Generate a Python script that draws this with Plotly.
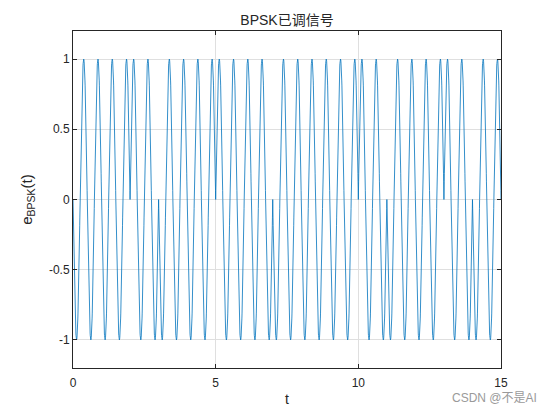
import numpy as np
import plotly.graph_objects as go

# Data
bits = [-1, -1, 1, -1, -1, 1, 1, -1, -1, -1, 1, -1, -1, 1, -1]  # one bit per unit time
carrier_freq = 2.0  # cycles per unit time
bit_duration = 1.0
sample_step = 0.005

x_ticks = [0, 5, 10, 15]
x_tick_text = ["0", "5", "10", "15"]
y_ticks = [-1, -0.5, 0, 0.5, 1]
y_tick_text = ["-1", "-0.5", "0", "0.5", "1"]

t = np.arange(0, len(bits) * bit_duration + sample_step / 2, sample_step)
idx = np.minimum((t // bit_duration).astype(int), len(bits) - 1)
b = np.array(bits)[idx]
e = b * np.sin(2 * np.pi * carrier_freq * t)

W, H = 538, 399          # page body has an 8px margin
ML, MT, MR, MB = 65, 23, 45, 39

fig = go.Figure()
fig.add_trace(go.Scatter(x=t, y=e, mode="lines",
                         line=dict(color="#0072BD", width=0.8), showlegend=False))

axis_common = dict(showline=True, linecolor="#262626", linewidth=1, mirror="allticks",
                   ticks="inside", ticklen=4, tickcolor="#262626", automargin=False,
                   showgrid=True, gridcolor="#dfdfdf", gridwidth=1, zeroline=False,
                   tickfont=dict(family="Liberation Sans, Arial, sans-serif", size=12, color="#262626"))

fig.update_layout(
    width=W, height=H,
    paper_bgcolor="white", plot_bgcolor="white",
    margin=dict(l=ML, r=MR, t=MT, b=MB),
    title=dict(text="BPSK已调信号", x=0.5, xanchor="center", xref="paper",
               y=1 - 12 / H, yanchor="middle", automargin=False,
               font=dict(family="Liberation Sans, Noto Sans CJK SC, sans-serif", size=14, color="#262626")),
    xaxis=dict(range=[0, 15], tickvals=x_ticks, ticktext=x_tick_text, ticklabelstandoff=4,
               title=dict(text="t", standoff=13,
                          font=dict(family="Liberation Sans, Arial, sans-serif", size=14, color="#262626")),
               **axis_common),
    yaxis=dict(range=[-1.2, 1.2], tickvals=y_ticks, ticktext=y_tick_text,
               title=dict(text="e<sub>BPSK</sub>(t)", standoff=12,
                          font=dict(family="Liberation Sans, Arial, sans-serif", size=15, color="#262626")),
               **axis_common),
)

plot_w = W - ML - MR
plot_h = H - MT - MB
fig.add_annotation(text="CSDN @不是AI", xref="paper", yref="paper",
                   x=(531 - ML) / plot_w, y=-(390 - (H - MB)) / plot_h,
                   xanchor="right", yanchor="middle", showarrow=False,
                   font=dict(family="Liberation Sans, Noto Sans CJK SC, sans-serif", size=12, color="#9a9a9a"))

fig.write_html("out.html")
